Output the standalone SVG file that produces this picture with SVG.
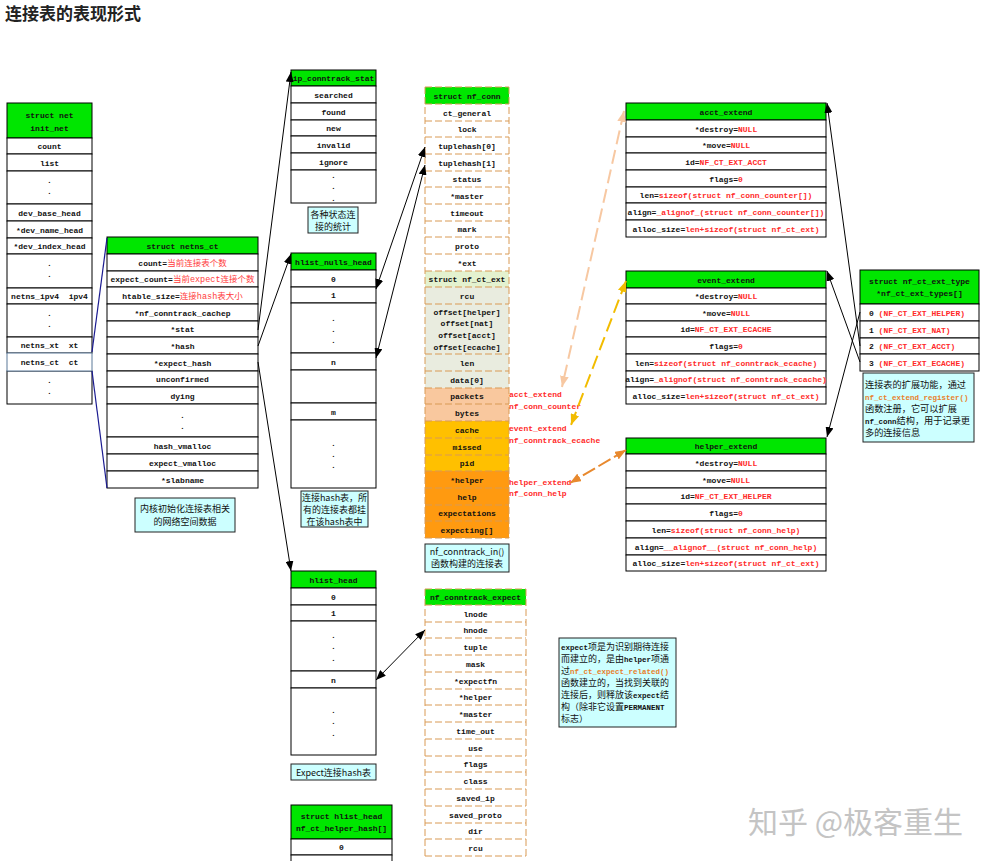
<svg xmlns="http://www.w3.org/2000/svg" width="988" height="861" viewBox="0 0 988 861">
<defs>
<style>
.hd{fill:#00e600;stroke:#000;stroke-width:1}
.c{fill:#fff;stroke:#000;stroke-width:1}
.t{font-family:"Liberation Mono","Noto Sans CJK SC",monospace;font-size:8px;font-weight:bold;text-anchor:middle;fill:#111;white-space:pre}
.tl{text-anchor:start}
.r{fill:#ff2a2a}
.rn{fill:#ff3b3b;font-weight:normal;font-size:8.5px}
.o{fill:#e8802a}
.cap{fill:#ccffff;stroke:#222;stroke-width:1}
.ct{font-family:"Noto Sans CJK SC","Liberation Mono",sans-serif;font-size:9px;text-anchor:middle;fill:#111}
.ctl{font-family:"Noto Sans CJK SC",sans-serif;font-size:9.2px;fill:#111}
.ce{font-family:"Noto Sans CJK SC",sans-serif;font-size:9px;fill:#111}
.a{font-family:"Liberation Mono",monospace;font-size:7.5px;font-weight:bold}
.dl{fill:none;stroke:#d99a55;stroke-width:1;stroke-dasharray:7 3}
.ln{fill:none;stroke:#000;stroke-width:1}
.bl{fill:none;stroke:#1a1a90;stroke-width:1.2}
</style>
<marker id="ah" viewBox="0 0 10 8" refX="10" refY="4" markerWidth="10" markerHeight="8" markerUnits="userSpaceOnUse" orient="auto-start-reverse"><path d="M0 0L10 4L0 8z" fill="#000"/></marker>
<marker id="ap" viewBox="0 0 10 8" refX="10" refY="4" markerWidth="11" markerHeight="9" markerUnits="userSpaceOnUse" orient="auto-start-reverse"><path d="M0 0L10 4L0 8z" fill="#f7c8a2"/></marker>
<marker id="ag" viewBox="0 0 10 8" refX="10" refY="4" markerWidth="11" markerHeight="9" markerUnits="userSpaceOnUse" orient="auto-start-reverse"><path d="M0 0L10 4L0 8z" fill="#f2bc00"/></marker>
<marker id="ao" viewBox="0 0 10 8" refX="10" refY="4" markerWidth="11" markerHeight="9" markerUnits="userSpaceOnUse" orient="auto-start-reverse"><path d="M0 0L10 4L0 8z" fill="#e8892e"/></marker>
</defs>
<rect width="988" height="861" fill="#fff"/>
<text x="5" y="20" font-family="Noto Sans CJK SC, sans-serif" font-size="17" font-weight="bold" fill="#222">连接表的表现形式</text>

<g id="init_net">
<rect class="hd" x="7" y="103" width="85" height="35"/>
<text class="t" x="49.5" y="118">struct net</text>
<text class="t" x="49.5" y="131">init_net</text>
<rect class="c" x="7" y="138" width="85" height="16"/><text class="t" x="49.5" y="149">count</text>
<rect class="c" x="7" y="154" width="85" height="17"/><text class="t" x="49.5" y="165.5">list</text>
<rect class="c" x="7" y="171" width="85" height="33"/><text class="t" x="49.5" y="183">.</text><text class="t" x="49.5" y="194">.</text>
<rect class="c" x="7" y="204" width="85" height="17"/><text class="t" x="49.5" y="215.5">dev_base_head</text>
<rect class="c" x="7" y="221" width="85" height="17"/><text class="t" x="49.5" y="232.5">*dev_name_head</text>
<rect class="c" x="7" y="238" width="85" height="16"/><text class="t" x="49.5" y="249">*dev_index_head</text>
<rect class="c" x="7" y="254" width="85" height="34"/><text class="t" x="49.5" y="266">.</text><text class="t" x="49.5" y="277">.</text>
<rect class="c" x="7" y="288" width="85" height="16"/><text class="t" x="49.5" y="299">netns_ipv4  ipv4</text>
<rect class="c" x="7" y="304" width="85" height="33"/><text class="t" x="49.5" y="316">.</text><text class="t" x="49.5" y="327">.</text>
<rect class="c" x="7" y="337" width="85" height="16"/><text class="t" x="49.5" y="348">netns_xt  xt</text>
<rect class="c" x="7" y="371" width="85" height="33"/><text class="t" x="49.5" y="383">.</text><text class="t" x="49.5" y="394">.</text>
<rect x="7" y="353" width="85" height="18" fill="#fff" stroke="#5a7898"/><text class="t" x="49.5" y="365">netns_ct  ct</text>
</g>

<g id="netns_ct">
<rect class="hd" x="107" y="237" width="151" height="17"/><text class="t" x="182.5" y="248.5">struct netns_ct</text>
<rect class="c" x="107" y="254" width="151" height="17"/><text class="t" x="182.5" y="265.5">count=<tspan class="rn">当前连接表个数</tspan></text>
<rect class="c" x="107" y="271" width="151" height="16"/><text class="t" x="182.5" y="282">expect_count=<tspan class="rn">当前expect连接个数</tspan></text>
<rect class="c" x="107" y="287" width="151" height="17"/><text class="t" x="182.5" y="298.5">htable_size=<tspan class="rn">连接hash表大小</tspan></text>
<rect class="c" x="107" y="304" width="151" height="17"/><text class="t" x="182.5" y="315.5">*nf_conntrack_cachep</text>
<rect class="c" x="107" y="321" width="151" height="16"/><text class="t" x="182.5" y="332">*stat</text>
<rect class="c" x="107" y="337" width="151" height="17"/><text class="t" x="182.5" y="348.5">*hash</text>
<rect class="c" x="107" y="354" width="151" height="17"/><text class="t" x="182.5" y="365.5">*expect_hash</text>
<rect class="c" x="107" y="371" width="151" height="16"/><text class="t" x="182.5" y="382">unconfirmed</text>
<rect class="c" x="107" y="387" width="151" height="17"/><text class="t" x="182.5" y="398.5">dying</text>
<rect class="c" x="107" y="404" width="151" height="33"/><text class="t" x="182.5" y="418">.</text><text class="t" x="182.5" y="429">.</text>
<rect class="c" x="107" y="437" width="151" height="17"/><text class="t" x="182.5" y="448.5">hash_vmalloc</text>
<rect class="c" x="107" y="454" width="151" height="17"/><text class="t" x="182.5" y="465.5">expect_vmalloc</text>
<rect class="c" x="107" y="471" width="151" height="17"/><text class="t" x="182.5" y="482.5">*slabname</text>
</g>
<g id="cap_netns">
<rect class="cap" x="135" y="498" width="100" height="34"/>
<text class="ct" x="185" y="512">内核初始化连接表相关</text>
<text class="ct" x="185" y="525">的网络空间数据</text>
</g>

<g id="ip_conntrack_stat">
<rect class="hd" x="291" y="70" width="85" height="16"/><text class="t" x="333.5" y="81">ip_conntrack_stat</text>
<rect class="c" x="291" y="86" width="85" height="17"/><text class="t" x="333.5" y="97.5">searched</text>
<rect class="c" x="291" y="103" width="85" height="17"/><text class="t" x="333.5" y="114.5">found</text>
<rect class="c" x="291" y="120" width="85" height="16"/><text class="t" x="333.5" y="131">new</text>
<rect class="c" x="291" y="136" width="85" height="17"/><text class="t" x="333.5" y="147.5">invalid</text>
<rect class="c" x="291" y="153" width="85" height="17"/><text class="t" x="333.5" y="164.5">ignore</text>
<rect class="c" x="291" y="170" width="85" height="33"/><text class="t" x="333.5" y="178">.</text><text class="t" x="333.5" y="189">.</text><text class="t" x="333.5" y="201">.</text>
</g>
<g id="cap_stat">
<rect class="cap" x="308" y="207" width="50" height="26"/>
<text class="ct" x="333" y="218">各种状态连</text>
<text class="ct" x="333" y="230">接的统计</text>
</g>

<g id="hlist_nulls_head">
<rect class="hd" x="291" y="253" width="85" height="17"/><text class="t" x="333.5" y="264.5">hlist_nulls_head</text>
<rect class="c" x="291" y="270" width="85" height="17"/><text class="t" x="333.5" y="281.5">0</text>
<rect class="c" x="291" y="287" width="85" height="16"/><text class="t" x="333.5" y="298">1</text>
<rect class="c" x="291" y="303" width="85" height="50"/><text class="t" x="333.5" y="321">.</text><text class="t" x="333.5" y="332">.</text><text class="t" x="333.5" y="343">.</text>
<rect class="c" x="291" y="353" width="85" height="17"/><text class="t" x="333.5" y="364.5">n</text>
<rect class="c" x="291" y="370" width="85" height="33"/>
<rect class="c" x="291" y="403" width="85" height="17"/><text class="t" x="333.5" y="414.5">m</text>
<rect class="c" x="291" y="420" width="85" height="68"/><text class="t" x="333.5" y="446">.</text><text class="t" x="333.5" y="457">.</text><text class="t" x="333.5" y="468">.</text>
</g>
<g id="cap_nulls">
<rect class="cap" x="301" y="491" width="67" height="36"/>
<text class="ct" x="334.5" y="501">连接hash表，所</text>
<text class="ct" x="334.5" y="513">有的连接表都挂</text>
<text class="ct" x="334.5" y="525">在该hash表中</text>
</g>

<g id="nf_conn">
<rect x="425" y="87" width="84" height="17" fill="#00e600"/>
<rect x="425" y="104" width="84" height="167" fill="#fff"/>
<rect x="425" y="271" width="84" height="16" fill="#e4f2cf"/>
<rect x="425" y="287" width="84" height="101" fill="#e9ecdf"/>
<rect x="425" y="388" width="84" height="33" fill="#f9c89e"/>
<rect x="425" y="421" width="84" height="50" fill="#ffc000"/>
<rect x="425" y="471" width="84" height="67" fill="#ff9a10"/>
<path class="dl" d="M425 87H509M425 104H509M425 121H509M425 137H509M425 154H509M425 171H509M425 187H509M425 204H509M425 221H509M425 237H509M425 254H509M425 271H509M425 287H509M425 304H509M425 354H509M425 371H509M425 388H509M425 404H509M425 421H509M425 438H509M425 455H509M425 471H509M425 488H509M425 505H509M425 521H509M425 538H509M425 87V538M509 87V538"/>
<text class="t" x="467" y="98.5">struct nf_conn</text>
<text class="t" x="467" y="115.5">ct_general</text>
<text class="t" x="467" y="132">lock</text>
<text class="t" x="467" y="148.5">tuplehash[0]</text>
<text class="t" x="467" y="165.5">tuplehash[1]</text>
<text class="t" x="467" y="182">status</text>
<text class="t" x="467" y="198.5">*master</text>
<text class="t" x="467" y="215.5">timeout</text>
<text class="t" x="467" y="232">mark</text>
<text class="t" x="467" y="248.5">proto</text>
<text class="t" x="467" y="265.5">*ext</text>
<text class="t" x="467" y="282">struct nf_ct_ext</text>
<text class="t" x="467" y="298.5">rcu</text>
<text class="t" x="467" y="315">offset[helper]</text>
<text class="t" x="467" y="326">offset[nat]</text>
<text class="t" x="467" y="338">offset[acct]</text>
<text class="t" x="467" y="350">offset[ecache]</text>
<text class="t" x="467" y="365.5">len</text>
<text class="t" x="467" y="382.5">data[0]</text>
<text class="t" x="467" y="399">packets</text>
<text class="t" x="467" y="415.5">bytes</text>
<text class="t" x="467" y="432.5">cache</text>
<text class="t" x="467" y="449.5">missed</text>
<text class="t" x="467" y="466">pid</text>
<text class="t" x="467" y="482.5">*helper</text>
<text class="t" x="467" y="499.5">help</text>
<text class="t" x="467" y="516">expectations</text>
<text class="t" x="467" y="532.5">expecting[]</text>
</g>
<g id="cap_conn">
<rect class="cap" x="425" y="544" width="84" height="28"/>
<text class="ct" x="467" y="555" font-family="Liberation Mono, monospace" font-size="8.5">nf_conntrack_in()</text>
<text class="ct" x="467" y="567">函数构建的连接表</text>
</g>
<g id="ext_labels">
<text class="t tl r" x="509" y="397">acct_extend</text>
<text class="t tl r" x="509" y="409">nf_conn_counter</text>
<text class="t tl r" x="509" y="431">event_extend</text>
<text class="t tl r" x="509" y="443">nf_conntrack_ecache</text>
<text class="t tl r" x="509" y="485">helper_extend</text>
<text class="t tl r" x="509" y="496">nf_conn_help</text>
</g>

<g id="acct_extend">
<rect class="hd" x="626" y="103" width="200" height="17"/><text class="t" x="726" y="114.5">acct_extend</text>
<rect class="c" x="626" y="120" width="200" height="17"/><text class="t" x="726" y="131.5">*destroy=<tspan class="r">NULL</tspan></text>
<rect class="c" x="626" y="137" width="200" height="16"/><text class="t" x="726" y="148">*move=<tspan class="r">NULL</tspan></text>
<rect class="c" x="626" y="153" width="200" height="17"/><text class="t" x="726" y="164.5">id=<tspan class="r">NF_CT_EXT_ACCT</tspan></text>
<rect class="c" x="626" y="170" width="200" height="17"/><text class="t" x="726" y="181.5">flags=<tspan class="r">0</tspan></text>
<rect class="c" x="626" y="187" width="200" height="16"/><text class="t" x="726" y="198">len=<tspan class="r">sizeof(struct nf_conn_counter[])</tspan></text>
<rect class="c" x="626" y="203" width="200" height="17"/><text class="t" x="726" y="214.5">align=<tspan class="r">_alignof_(struct nf_conn_counter[])</tspan></text>
<rect class="c" x="626" y="220" width="200" height="17"/><text class="t" x="726" y="231.5">alloc_size=<tspan class="r">len+sizeof(struct nf_ct_ext)</tspan></text>
</g>

<g id="event_extend">
<rect class="hd" x="626" y="271" width="200" height="17"/><text class="t" x="726" y="282.5">event_extend</text>
<rect class="c" x="626" y="288" width="200" height="16"/><text class="t" x="726" y="299">*destroy=<tspan class="r">NULL</tspan></text>
<rect class="c" x="626" y="304" width="200" height="17"/><text class="t" x="726" y="315.5">*move=<tspan class="r">NULL</tspan></text>
<rect class="c" x="626" y="321" width="200" height="16"/><text class="t" x="726" y="332">id=<tspan class="r">NF_CT_EXT_ECACHE</tspan></text>
<rect class="c" x="626" y="337" width="200" height="17"/><text class="t" x="726" y="348.5">flags=<tspan class="r">0</tspan></text>
<rect class="c" x="626" y="354" width="200" height="17"/><text class="t" x="726" y="365.5">len=<tspan class="r">sizeof(struct nf_conntrack_ecache)</tspan></text>
<rect class="c" x="626" y="371" width="200" height="16"/><text class="t" x="726" y="382">align=<tspan class="r">_alignof(struct nf_conntrack_ecache)</tspan></text>
<rect class="c" x="626" y="387" width="200" height="17"/><text class="t" x="726" y="398.5">alloc_size=<tspan class="r">len+sizeof(struct nf_ct_ext)</tspan></text>
</g>

<g id="helper_extend">
<rect class="hd" x="626" y="438" width="200" height="16"/><text class="t" x="726" y="449">helper_extend</text>
<rect class="c" x="626" y="454" width="200" height="17"/><text class="t" x="726" y="465.5">*destroy=<tspan class="r">NULL</tspan></text>
<rect class="c" x="626" y="471" width="200" height="17"/><text class="t" x="726" y="482.5">*move=<tspan class="r">NULL</tspan></text>
<rect class="c" x="626" y="488" width="200" height="16"/><text class="t" x="726" y="499">id=<tspan class="r">NF_CT_EXT_HELPER</tspan></text>
<rect class="c" x="626" y="504" width="200" height="17"/><text class="t" x="726" y="515.5">flags=<tspan class="r">0</tspan></text>
<rect class="c" x="626" y="521" width="200" height="17"/><text class="t" x="726" y="532.5">len=<tspan class="r">sizeof(struct nf_conn_help)</tspan></text>
<rect class="c" x="626" y="538" width="200" height="17"/><text class="t" x="726" y="549.5">align=<tspan class="r">__alignof__(struct nf_conn_help)</tspan></text>
<rect class="c" x="626" y="555" width="200" height="16"/><text class="t" x="726" y="566">alloc_size=<tspan class="r">len+sizeof(struct nf_ct_ext)</tspan></text>
</g>

<g id="nf_ct_ext_type">
<rect class="hd" x="860" y="270" width="119" height="34"/>
<text class="t" x="919.5" y="284">struct nf_ct_ext_type</text>
<text class="t" x="919.5" y="296">*nf_ct_ext_types[]</text>
<rect class="c" x="860" y="304" width="119" height="17"/><text class="t tl" x="869" y="315.5">0 <tspan class="r">(NF_CT_EXT_HELPER)</tspan></text>
<rect class="c" x="860" y="321" width="119" height="17"/><text class="t tl" x="869" y="332.5">1 <tspan class="r">(NF_CT_EXT_NAT)</tspan></text>
<rect class="c" x="860" y="338" width="119" height="16"/><text class="t tl" x="869" y="349">2 <tspan class="r">(NF_CT_EXT_ACCT)</tspan></text>
<rect class="c" x="860" y="354" width="119" height="17"/><text class="t tl" x="869" y="365.5">3 <tspan class="r">(NF_CT_EXT_ECACHE)</tspan></text>
</g>
<g id="cap_ext">
<rect class="cap" x="863" y="373" width="111" height="69"/>
<text class="ctl" x="865" y="388">连接表的扩展功能，通过</text>
<text class="ctl" x="865" y="400"><tspan class="a o">nf_ct_extend_register()</tspan></text>
<text class="ctl" x="865" y="412">函数注册，它可以扩展</text>
<text class="ctl" x="865" y="424"><tspan class="a">nf_conn</tspan>结构，用于记录更</text>
<text class="ctl" x="865" y="436">多的连接信息</text>
</g>

<g id="hlist_head">
<rect class="hd" x="291" y="571" width="85" height="17"/><text class="t" x="333.5" y="582.5">hlist_head</text>
<rect class="c" x="291" y="588" width="85" height="17"/><text class="t" x="333.5" y="599.5">0</text>
<rect class="c" x="291" y="605" width="85" height="16"/><text class="t" x="333.5" y="616">1</text>
<rect class="c" x="291" y="621" width="85" height="50"/><text class="t" x="333.5" y="638">.</text><text class="t" x="333.5" y="649">.</text><text class="t" x="333.5" y="661">.</text>
<rect class="c" x="291" y="671" width="85" height="17"/><text class="t" x="333.5" y="682.5">n</text>
<rect class="c" x="291" y="688" width="85" height="67"/><text class="t" x="333.5" y="713">.</text><text class="t" x="333.5" y="724">.</text><text class="t" x="333.5" y="736">.</text>
</g>
<g id="cap_expect_hash">
<rect class="cap" x="291" y="764" width="85" height="16"/>
<text class="ct" x="333.5" y="775.5" font-family="Liberation Mono, Noto Sans CJK SC, monospace">Expect连接hash表</text>
</g>

<g id="helper_hash">
<rect class="hd" x="291" y="805" width="101" height="34"/>
<text class="t" x="341.5" y="819">struct hlist_head</text>
<text class="t" x="341.5" y="831">nf_ct_helper_hash[]</text>
<rect class="c" x="291" y="839" width="101" height="16"/><text class="t" x="341.5" y="850">0</text>
<rect class="c" x="291" y="855" width="101" height="16"/>
</g>

<g id="nf_conntrack_expect">
<rect x="425" y="589" width="101" height="16" fill="#00e600"/>
<rect x="425" y="605" width="101" height="251" fill="#fff"/>
<path class="dl" d="M425 589H526M425 605H526M425 622H526M425 638H526M425 655H526M425 672H526M425 689H526M425 705H526M425 722H526M425 739H526M425 756H526M425 772H526M425 789H526M425 806H526M425 823H526M425 839H526M425 856H526M425 589V856M526 589V856"/>
<text class="t" x="475.5" y="600">nf_conntrack_expect</text>
<text class="t" x="475.5" y="616.5">lnode</text>
<text class="t" x="475.5" y="633">hnode</text>
<text class="t" x="475.5" y="649.5">tuple</text>
<text class="t" x="475.5" y="666.5">mask</text>
<text class="t" x="475.5" y="683.5">*expectfn</text>
<text class="t" x="475.5" y="700">*helper</text>
<text class="t" x="475.5" y="716.5">*master</text>
<text class="t" x="475.5" y="733.5">time_out</text>
<text class="t" x="475.5" y="750.5">use</text>
<text class="t" x="475.5" y="767">flags</text>
<text class="t" x="475.5" y="783.5">class</text>
<text class="t" x="475.5" y="800.5">saved_ip</text>
<text class="t" x="475.5" y="817.5">saved_proto</text>
<text class="t" x="475.5" y="834">dir</text>
<text class="t" x="475.5" y="850.5">rcu</text>
</g>

<g id="cap_expect">
<rect class="cap" x="559" y="638" width="117" height="89"/>
<text class="ce" x="561" y="650"><tspan class="a">expect</tspan>项是为识别期待连接</text>
<text class="ce" x="561" y="662">而建立的，是由<tspan class="a">helper</tspan>项通</text>
<text class="ce" x="561" y="674">过<tspan class="a o">nf_ct_expect_related()</tspan></text>
<text class="ce" x="561" y="686">函数建立的，当找到关联的</text>
<text class="ce" x="561" y="698">连接后，则释放该<tspan class="a">expect</tspan>结</text>
<text class="ce" x="561" y="710">构（除非它设置<tspan class="a">PERMANENT</tspan></text>
<text class="ce" x="561" y="722">标志）</text>
</g>

<g id="connectors">
<path class="bl" d="M92 352L107 238"/>
<path class="bl" d="M92 371L107 488"/>
<path class="ln" d="M258 330L291 72" marker-end="url(#ah)"/>
<path class="ln" d="M258 346L291 254" marker-end="url(#ah)"/>
<path class="ln" d="M258 362L291 571" marker-end="url(#ah)"/>
<path class="ln" d="M376 289L425 147" marker-start="url(#ah)" marker-end="url(#ah)"/>
<path class="ln" d="M376 358L425 165" marker-start="url(#ah)" marker-end="url(#ah)"/>
<path class="ln" d="M376 680L425 630" marker-start="url(#ah)" marker-end="url(#ah)"/>
<path fill="none" stroke="#f7c8a2" stroke-width="2" stroke-dasharray="14 6" d="M624 111L562 387" marker-start="url(#ap)" marker-end="url(#ap)"/>
<path fill="none" stroke="#f2bc00" stroke-width="2" stroke-dasharray="14 6" d="M626 281L571 425" marker-start="url(#ag)" marker-end="url(#ag)"/>
<path fill="none" stroke="#e8892e" stroke-width="2" stroke-dasharray="14 4" d="M626 450L570 483" marker-start="url(#ao)" marker-end="url(#ao)"/>
<path class="ln" d="M860 346L827 103" marker-end="url(#ah)"/>
<path class="ln" d="M860 362L827 271" marker-end="url(#ah)"/>
<path class="ln" d="M860 312L827 437" marker-end="url(#ah)"/>
</g>

<text x="748" y="833" font-family="Noto Sans CJK SC, sans-serif" font-size="30" fill="#c4c4c4">知乎 @极客重生</text>
</svg>
